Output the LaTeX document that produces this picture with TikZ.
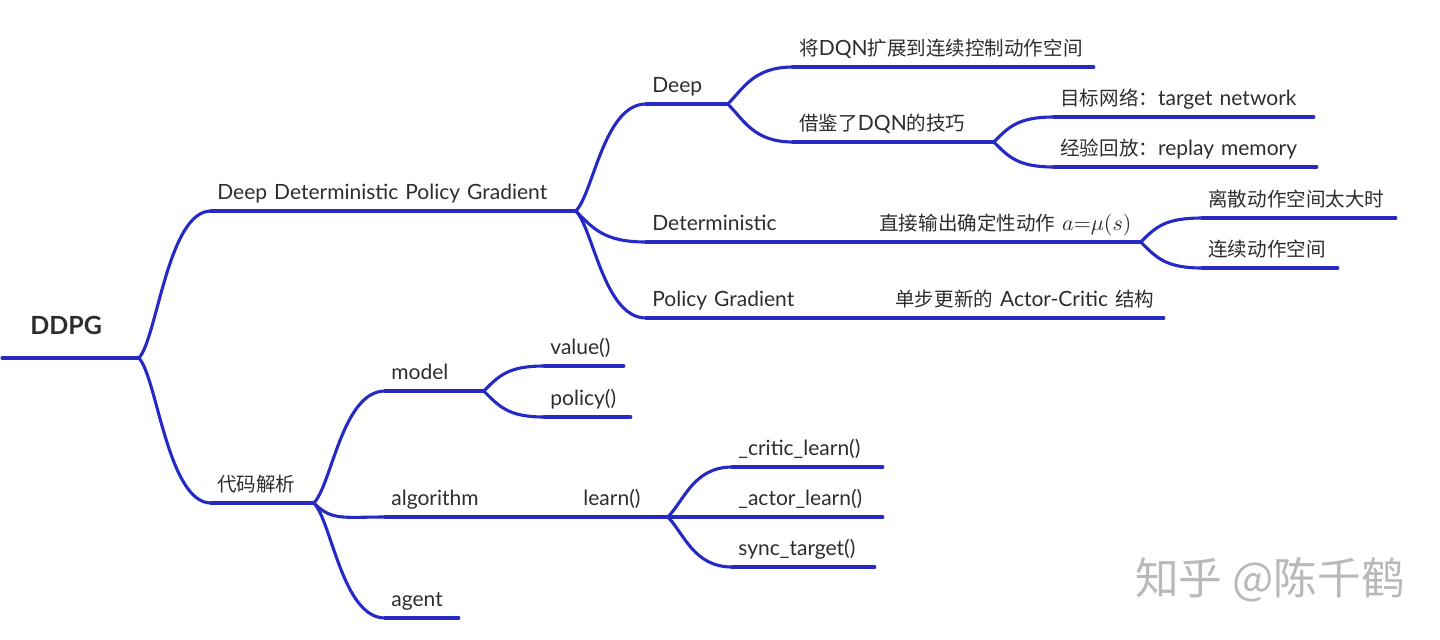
\documentclass[tikz,border=0pt]{standalone}
\usepackage{fontspec}
\setmainfont{Lato}
\newfontfamily\cjk[Scale=0.93]{Noto Sans CJK SC}
\usetikzlibrary{calc}
\definecolor{linkcolor}{RGB}{38,42,196}
\definecolor{textcolor}{RGB}{45,45,45}
\definecolor{markcolor}{RGB}{185,185,185}

% curved branch from a parent's line end to a child's line start
\newcommand{\fork}[2]{%
  \draw[link] let \p1=(#1.south east), \p2=(#2.south west),
    \n1={\x2-\x1}, \n2={sign(\y2-\y1)} in
    (\p1) .. controls +(0.25*\n1, \n2*0.25*\n1) and +(-0.6*\n1, 0pt) .. (\p2);
}

\begin{document}
\begin{tikzpicture}[x=0.5pt, y=-0.5pt]
\tikzset{
  link/.style={draw=linkcolor, line width=1.55pt, line cap=round},
  topic/.style={anchor=south west, inner xsep=3pt, inner ysep=3.25pt,
    text height=8pt, text depth=2.5pt, align=left, text=textcolor,
    font=\fontsize{10.5}{12}\selectfont},
  root/.style={topic, inner xsep=14pt, inner ysep=9pt,
    font=\fontsize{12.5}{15}\selectfont\bfseries},
  watermark/.style={text=markcolor, font=\fontsize{23.5}{26}\selectfont\cjk},
}
\useasboundingbox (0,0) rectangle (1440,639);

\node [root, text width=40pt] (root) at (2,358) {DDPG};

\node [topic, text width=176pt] (dpg) at (211,211) {Deep Deterministic Policy Gradient};
\node [topic, text width=45pt] (code) at (211,503) {\cjk 代码解析};

\node [topic, text width=34.5pt] (deep) at (646,104) {Deep};
\node [topic, text width=107.5pt] (det) at (646,242) {Deterministic};
\node [topic, text width=115.5pt] (pg) at (646,318) {Policy Gradient};

\node [topic, text width=144pt] (ext) at (793,67) {{\cjk 将}DQN{\cjk 扩展到连续控制动作空间}};
\node [topic, text width=94pt] (tricks) at (793,142) {{\cjk 借鉴了}DQN{\cjk 的技巧}};
\node [topic, text width=123.5pt] (target) at (1054,117) {{\cjk 目标网络：}target network};
\node [topic, text width=125pt] (replay) at (1054,167) {{\cjk 经验回放：}replay memory};

\node [topic, text width=127.5pt] (act) at (873,242) {{\cjk 直接输出确定性动作} $a{=}\mu(s)$};
\node [topic, text width=90.5pt] (disc) at (1202,218) {\cjk 离散动作空间太大时};
\node [topic, text width=61.5pt] (cont) at (1202,268) {\cjk 连续动作空间};

\node [topic, text width=131pt] (ac) at (889,318) {{\cjk 单步更新的} Actor-Critic {\cjk 结构}};

\node [topic, text width=43pt] (model) at (385,391) {model};
\node [topic, text width=90pt] (algo) at (385,517) {algorithm};
\node [topic, text width=30.5pt] (agent) at (385,618) {agent};

\node [topic, text width=33.5pt] (value) at (544,366) {value()};
\node [topic, text width=37pt] (policy) at (544,417) {policy()};

\node [topic, text width=39pt] (learn) at (577,517) {learn()};
\node [topic, text width=69pt] (critic) at (732,467) {\_critic\_learn()};
\node [topic, text width=69pt] (actor) at (732,517) {\_actor\_learn()};
\node [topic, text width=65pt] (sync) at (732,567) {sync\_target()};

\node [watermark] (wm) at (1270,580) {知乎 @陈千鹤};

% underlines
\foreach \n in {root,dpg,code,deep,det,pg,ext,tricks,target,replay,act,disc,cont,
  ac,model,algo,agent,value,policy,learn,critic,actor,sync}
  \draw[link] (\n.south west) -- (\n.south east);

% connect
\fork{root}{dpg}
\fork{root}{code}
\fork{dpg}{deep}
\fork{dpg}{det}
\fork{dpg}{pg}
\fork{deep}{ext}
\fork{deep}{tricks}
\fork{tricks}{target}
\fork{tricks}{replay}
\fork{det}{act}
\fork{act}{disc}
\fork{act}{cont}
\fork{pg}{ac}
\fork{code}{model}
\fork{code}{algo}
\fork{code}{agent}
\fork{model}{value}
\fork{model}{policy}
\fork{algo}{learn}
\fork{learn}{critic}
\fork{learn}{actor}
\fork{learn}{sync}

\end{tikzpicture}
\end{document}
